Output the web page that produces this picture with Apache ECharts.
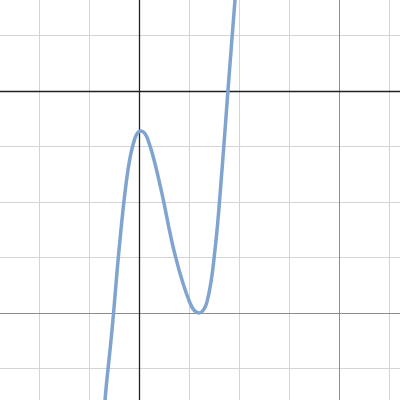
<!DOCTYPE html>
<html>
<head>
<meta charset="utf-8">
<script src="https://cdn.jsdelivr.net/npm/echarts@6/dist/echarts.min.js"></script>
<style>html,body{margin:0;padding:0;background:#fff}#chart{width:400px;height:400px}</style>
</head>
<body>
<div id="chart"></div>
<script>
// points, in grid units
const xs = [-0.70, -0.68, -0.54, -0.38, -0.22, -0.08, 0.04, 0.18, 0.42, 0.72, 1.02, 1.20, 1.36, 1.52, 1.66, 1.78, 1.92, 1.95];
const ys = [-6.0, -5.57, -4.31, -2.68, -1.42, -0.85, -0.72, -0.88, -1.69, -2.95, -3.82, -4.0, -3.8, -2.86, -1.42, 0.02, 1.64, 2.0];
const minorX = [-2, -1, 1, 2, 3, 5];
const minorY = [-5, -3, -2, -1, 1];
const majorX = [4];
const majorY = [-4];

const line = (axis, v, color, width) => ({[axis]: v, lineStyle: {color, width, type: 'solid'}});

const chart = echarts.init(document.getElementById('chart'));
chart.setOption({
	animation: false,
	grid: {left: 0, top: 0, right: 0, bottom: 0},
	xAxis: {
		type: 'value', min: -2.78, max: 5.22,
		axisLabel: {show: false}, axisTick: {show: false},
		axisLine: {show: false}, splitLine: {show: false}
	},
	yAxis: {
		type: 'value', min: -5.568, max: 1.64,
		axisLabel: {show: false}, axisTick: {show: false},
		axisLine: {show: false}, splitLine: {show: false}
	},
	series: [{
		type: 'line',
		data: xs.map((x, i) => [x, ys[i]]),
		smooth: 0.4,
		showSymbol: false,
		lineStyle: {color: '#7fa4d0', width: 3.5},
		markLine: {
			silent: true, symbol: 'none', label: {show: false}, z: 1,
			data: [
				...minorX.map(v => line('xAxis', v, '#d4d4d4', 1)),
				...minorY.map(v => line('yAxis', v, '#d4d4d4', 1)),
				...majorX.map(v => line('xAxis', v, '#8c8c8c', 1)),
				...majorY.map(v => line('yAxis', v, '#8c8c8c', 1)),
				line('xAxis', 0, '#222', 1.3),
				line('yAxis', 0, '#222', 1.3)
			]
		},
		z: 5
	}]
});
</script>
</body>
</html>
